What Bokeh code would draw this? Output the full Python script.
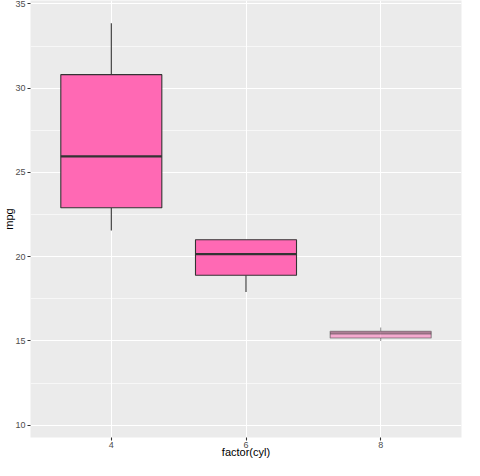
from bokeh.embed import file_html
from bokeh.models import ColumnDataSource, FixedTicker, Range1d
from bokeh.plotting import figure
from bokeh.resources import INLINE

# boxplot stats (mpg by cylinder count)
cyl = ["4", "6", "8"]
lower = [21.56, 17.9, 15.0]
q1 = [22.9, 18.9, 15.17]
median = [25.95, 20.15, 15.45]
q3 = [30.8, 21.0, 15.57]
upper = [33.85, 21.0, 15.8]
alpha = [1.0, 1.0, 0.5]

pos = [i + 1 for i in range(len(cyl))]
src = ColumnDataSource(data=dict(x=pos, lower=lower, q1=q1, median=median,
                                 q3=q3, upper=upper, alpha=alpha,
                                 x0=[x - 0.375 for x in pos], x1=[x + 0.375 for x in pos]))

p = figure(width=464, height=460, output_backend="svg", toolbar_location=None,
           x_range=Range1d(0.4, 3.6), y_range=Range1d(9.27, 35.2),
           min_border_left=0, min_border_right=3, min_border_top=0, min_border_bottom=0)
p.background_fill_color = "#EBEBEB"
p.border_fill_color = "white"
p.outline_line_color = None

p.xaxis.ticker = FixedTicker(ticks=pos)
p.xaxis.major_label_overrides = {x: c for x, c in zip(pos, cyl)}
p.yaxis.ticker = FixedTicker(ticks=[10, 15, 20, 25, 30, 35], minor_ticks=[12.5, 17.5, 22.5, 27.5, 32.5])

p.xgrid.grid_line_color = "white"
p.xgrid.grid_line_width = 1.1
p.ygrid.grid_line_color = "white"
p.ygrid.grid_line_width = 1.1
p.ygrid.minor_grid_line_color = "white"
p.ygrid.minor_grid_line_width = 0.6

for ax in (p.xaxis, p.yaxis):
    ax.axis_line_color = None
    ax.major_tick_line_color = "#333333"
    ax.major_tick_line_width = 1.1
    ax.major_tick_out = 3
    ax.major_tick_in = 0
    ax.minor_tick_line_color = None
    ax.major_label_text_color = "#4D4D4D"
    ax.major_label_text_font = "Liberation Sans"
    ax.major_label_text_font_size = "9px"
    ax.major_label_standoff = 1
    ax.axis_label_text_font = "Liberation Sans"
    ax.axis_label_text_font_size = "11px"
    ax.axis_label_text_font_style = "normal"
    ax.axis_label_text_color = "black"
p.xaxis.axis_label = "factor(cyl)"
p.yaxis.axis_label = "mpg"
p.xaxis.axis_label_standoff = -5
p.yaxis.axis_label_standoff = -3

p.segment(x0="x", y0="q3", x1="x", y1="upper", source=src, line_color="#333333",
          line_width=1.1, line_alpha="alpha")
p.segment(x0="x", y0="lower", x1="x", y1="q1", source=src, line_color="#333333",
          line_width=1.1, line_alpha="alpha")
p.vbar(x="x", width=0.75, bottom="q1", top="q3", source=src, fill_color="#FF69B4",
       fill_alpha="alpha", line_color="#333333", line_width=1.1, line_alpha="alpha")
p.segment(x0="x0", y0="median", x1="x1", y1="median", source=src, line_color="#333333",
          line_width=2.2, line_alpha="alpha")

open("out.html", "w").write(file_html(p, INLINE))
